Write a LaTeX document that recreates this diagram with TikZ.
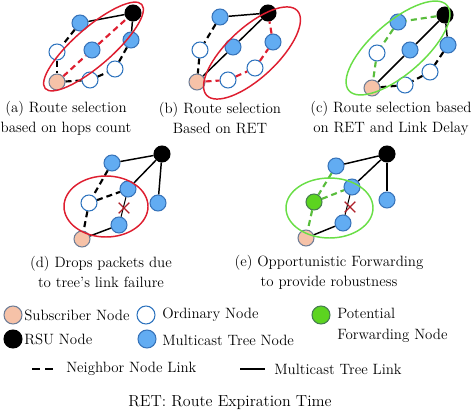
\documentclass[tikz,border=0pt]{standalone}
\usepackage{tikz}
\usetikzlibrary{shapes}
\usetikzlibrary{shapes.misc}
\usetikzlibrary{positioning}
\definecolor{mcfill}{RGB}{98,172,242}
\definecolor{mcline}{RGB}{55,115,185}
\definecolor{subfill}{RGB}{246,194,168}
\definecolor{subline}{RGB}{110,125,150}
\definecolor{ordline}{RGB}{45,115,190}
\definecolor{potfill}{RGB}{92,212,32}
\definecolor{potline}{RGB}{70,125,80}
\definecolor{hired}{RGB}{222,30,48}
\definecolor{higreen}{RGB}{105,222,70}
\definecolor{xred}{RGB}{175,30,40}
\tikzstyle{vnode}=[circle,inner sep=0mm,minimum size=12pt,line width=0.8pt]
\tikzstyle{subscr}=[vnode,draw=subline,fill=subfill]
\tikzstyle{ord}=[vnode,draw=ordline,fill=white]
\tikzstyle{rsu}=[vnode,draw=black,fill=black]
\tikzstyle{mct}=[vnode,draw=mcline,fill=mcfill]
\tikzstyle{pot}=[vnode,draw=potline,fill=potfill]
\tikzstyle{treelink}=[line width=1.1pt]
\tikzstyle{nbr}=[line width=1.6pt,dash pattern=on 4.5pt off 3pt]
\tikzstyle{rlink}=[nbr,draw=hired]
\tikzstyle{glink}=[nbr,draw=higreen!85!black]
\tikzstyle{rring}=[draw=hired,line width=1.1pt]
\tikzstyle{gring}=[draw=higreen,line width=1.1pt]
\tikzstyle{fail}=[cross out,draw=xred,line width=1pt,minimum size=7pt,inner sep=0pt]
\tikzstyle{subcap}=[align=center,font=\fontsize{11.2}{15}\selectfont]
\tikzstyle{legtext}=[anchor=west,inner sep=0pt,align=left,font=\fontsize{11.2}{15.5}\selectfont]
\tikzstyle{legnode}=[minimum size=13.5pt]

\begin{document}
\begin{tikzpicture}[x=0.75pt,y=-0.75pt]
  \useasboundingbox (0,0) rectangle (474,413);
  % (a) hops count
  \node[rsu] at (133,13) (aR) {};
  \node[mct] at (80,23) (aT) {};
  \node[mct] at (92,50) (aM) {};
  \node[mct] at (131,40) (aQ) {};
  \node[ord] at (57,52) (aO1) {};
  \node[ord] at (115,69) (aO2) {};
  \node[ord] at (90,80) (aO3) {};
  \node[subscr] at (57,82) (aS) {};
  \draw[treelink] (aR)--(aT);
  \draw[treelink] (aR)--(aQ);
  \draw[nbr] (aT)--(aO1);
  \draw[nbr] (aO1)--(aS);
  \draw[nbr] (aS)--(aO3);
  \draw[nbr] (aO3)--(aO2);
  \draw[nbr] (aO2)--(aQ);
  \draw[rlink] (aS)--(aM);
  \draw[rlink] (aM)--(aR);
  \draw[rring,rotate around={41:(93.5,46.5)}] (93.5,46.5) ellipse [x radius=64,y radius=19];
  \node[subcap] at (66,118) (capA) {(a) Route selection\\based on hops count};

  % (b) RET
  \node[rsu] at (268,13) (bR) {};
  \node[mct] at (220,17) (bT) {};
  \node[mct] at (233,47) (bM) {};
  \node[mct] at (273,42) (bQ) {};
  \node[ord] at (200,50) (bO1) {};
  \node[ord] at (255,68) (bO2) {};
  \node[ord] at (228,80) (bO3) {};
  \node[subscr] at (197,82) (bS) {};
  \draw[treelink] (bR)--(bT);
  \draw[treelink] (bS)--(bM);
  \draw[treelink] (bM)--(bR);
  \draw[nbr] (bT)--(bO1);
  \draw[nbr] (bO1)--(bS);
  \draw[rlink] (bS)--(bO3);
  \draw[rlink] (bO3)--(bO2);
  \draw[rlink] (bO2)--(bQ);
  \draw[rlink] (bQ)--(bR);
  \draw[rring,rotate around={43:(252,53)}] (252,53) ellipse [x radius=62,y radius=25];
  \node[subcap] at (220,118) (capB) {(b) Route selection\\Based on RET};

  % (c) RET and link delay
  \node[rsu] at (445,15) (cR) {};
  \node[mct] at (398,22) (cT) {};
  \node[mct] at (410,50) (cM) {};
  \node[mct] at (448,45) (cQ) {};
  \node[ord] at (377,53) (cO1) {};
  \node[ord] at (430,72) (cO2) {};
  \node[ord] at (405,85) (cO3) {};
  \node[subscr] at (372,88) (cS) {};
  \draw[treelink] (cS)--(cM);
  \draw[treelink] (cM)--(cR);
  \draw[treelink] (cR)--(cQ);
  \draw[nbr] (cQ)--(cO2);
  \draw[nbr] (cO2)--(cO3);
  \draw[nbr] (cO3)--(cS);
  \draw[glink] (cR)--(cT);
  \draw[glink] (cT)--(cO1);
  \draw[glink] (cO1)--(cS);
  \draw[gring,rotate around={41:(398,48)}] (398,48) ellipse [x radius=65,y radius=26];
  \node[subcap] at (391,118) (capC) {(c) Route selection based\\on RET and Link Delay};

  % (d) link failure
  \node[rsu] at (162,154) (dR) {};
  \node[mct] at (112,163) (dT) {};
  \node[mct] at (128,189) (dM) {};
  \node[mct] at (158,203) (dQ) {};
  \node[mct] at (119,225) (dL) {};
  \node[ord] at (89,203) (dO) {};
  \node[subscr] at (82,239) (dS) {};
  \draw[treelink] (dR)--(dT);
  \draw[treelink] (dR)--(dM);
  \draw[treelink] (dR)--(dQ);
  \draw[treelink] (dS)--(dL);
  \draw[line width=0.8pt] (dL)--(dM);
  \draw[nbr] (dT)--(dO);
  \draw[nbr] (dO)--(dM);
  \draw[nbr] (dO)--(dS);
  \node[fail] at (124,208) (dX) {};
  \draw[rring] (106,206.5) ellipse [x radius=42,y radius=30.5];
  \node[subcap] at (101,272) (capD) {(d) Drops packets due\\to tree's link failure};

  % (e) opportunistic forwarding
  \node[rsu] at (387,154) (eR) {};
  \node[mct] at (336,166) (eT) {};
  \node[mct] at (352,187) (eM) {};
  \node[mct] at (387,200) (eQ) {};
  \node[mct] at (343,223) (eL) {};
  \node[pot] at (314,202) (eP) {};
  \node[subscr] at (306,238) (eS) {};
  \draw[treelink] (eR)--(eT);
  \draw[treelink] (eR)--(eM);
  \draw[treelink] (eR)--(eQ);
  \draw[treelink] (eS)--(eL);
  \draw[line width=0.8pt] (eL)--(eM);
  \draw[glink] (eT)--(eP);
  \draw[glink] (eP)--(eM);
  \draw[glink] (eP)--(eS);
  \node[fail] at (350,207) (eX) {};
  \draw[gring] (329.5,208) ellipse [x radius=43.5,y radius=30];
  \node[subcap] at (329,272) (capE) {(e) Opportunistic Forwarding\\to provide robustness};

  % legend
  \node[subscr,legnode] at (13,315) (lgS) {};
  \node[legtext] at (24,315) (lgSt) {Subscriber Node};
  \node[ord,legnode] at (146,315) (lgO) {};
  \node[legtext] at (162,315) (lgOt) {Ordinary Node};
  \node[pot,legnode] at (321,315) (lgP) {};
  \node[legtext] at (337,325.5) (lgPt) {Potential\\Forwarding Node};
  \node[rsu,legnode] at (13,339) (lgR) {};
  \node[legtext] at (24,339) (lgRt) {RSU Node};
  \node[mct,legnode] at (147,339) (lgM) {};
  \node[legtext] at (162,340) (lgMt) {Multicast Tree Node};
  \coordinate (nbA) at (32,369);
  \coordinate (nbB) at (53,369);
  \draw[line width=1.6pt,dash pattern=on 6pt off 3.75pt] (nbA)--(nbB);
  \node[legtext] at (66,369) (lgNt) {Neighbor Node Link};
  \coordinate (trA) at (240,369);
  \coordinate (trB) at (265,369);
  \draw[line width=1.6pt] (trA)--(trB);
  \node[legtext] at (274,369) (lgTt) {Multicast Tree Link};
  \node[font=\fontsize{12}{14}\selectfont] at (230,403) (ret) {RET: Route Expiration Time};
\end{tikzpicture}
\end{document}
